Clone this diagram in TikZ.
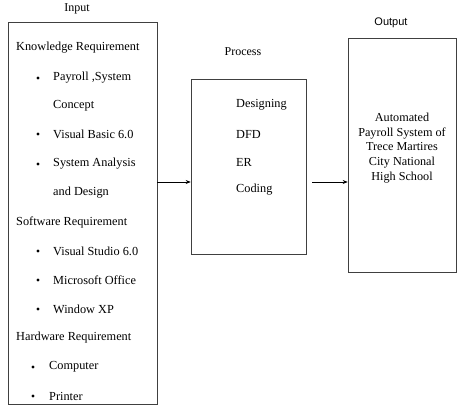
\documentclass[tikz,border=0pt]{standalone}
\usepackage{fontspec}
\setmainfont{Liberation Serif}
\newfontfamily\labelfont{Liberation Sans}
\usepackage{tikz}
\usetikzlibrary{arrows.meta}
\tikzstyle{arrow} = [-{Stealth[length=5pt,width=4pt]},line width=0.6pt]
\tikzstyle{box} = [draw=black!75,line width=0.6pt,inner sep=0pt]
\tikzstyle{txt} = [anchor=west,inner sep=0pt,font=\fontsize{12.3}{14}\selectfont]
\tikzstyle{dot} = [circle,fill,inner sep=1.2pt]

\begin{document}
\begin{tikzpicture}[x=1pt,y=-1pt]
          \useasboundingbox (0,0) rectangle (474,409);
          % boxes
          \node[box, minimum width=149pt, minimum height=382pt] (input) at (82.5, 213) {};
          \node[box, minimum width=115pt, minimum height=175pt] (process) at (248.5, 166.5) {};
          \node[box, minimum width=108pt, minimum height=234pt] (output) at (402, 155) {};

          % titles
          \node[font=\fontsize{12}{14}\selectfont] (tin) at (77, 9) {Input};
          \node[font=\fontsize{12}{14}\selectfont] (tproc) at (243, 52) {Process};
          \node[font=\labelfont\fontsize{11}{13}\selectfont] (tout) at (391, 23) {Output};

          % input list
          \node[txt] (k) at (16, 48) {Knowledge Requirement};
          \node[dot] (b1) at (38, 78) {};
          \node[txt] (k1) at (53, 78) {Payroll ,System};
          \node[txt] (k1b) at (53, 106) {Concept};
          \node[dot] (b2) at (38, 134) {};
          \node[txt] (k2) at (53, 134) {Visual Basic 6.0};
          \node[dot] (b3) at (38, 164) {};
          \node[txt] (k3) at (53, 164) {System Analysis};
          \node[txt] (k3b) at (53, 193) {and Design};
          \node[txt] (s) at (16, 222) {Software Requirement};
          \node[dot] (b4) at (38, 251) {};
          \node[txt] (s1) at (53, 251) {Visual Studio 6.0};
          \node[dot] (b5) at (38, 280) {};
          \node[txt] (s2) at (53, 280) {Microsoft Office};
          \node[dot] (b6) at (38, 309) {};
          \node[txt] (s3) at (53, 309) {Window XP};
          \node[txt] (h) at (16, 338) {Hardware Requirement};
          \node[dot] (b7) at (33, 367) {};
          \node[txt] (h1) at (49, 367) {Computer};
          \node[dot] (b8) at (33, 396) {};
          \node[txt] (h2) at (49, 396) {Printer};

          % process list
          \node[txt] (p1) at (236, 105) {Designing};
          \node[txt] (p2) at (236, 134) {DFD};
          \node[txt] (p3) at (236, 162) {ER};
          \node[txt] (p4) at (236, 190) {Coding};

          % output text
          \node[align=center, inner sep=0pt, font=\fontsize{12.2}{14.6}\selectfont] (res) at (402, 148)
            {Automated\\Payroll System of\\Trece Martires\\City National\\High School};

          \coordinate (mid) at (0, 182);
          \draw[arrow] (input.east |- mid) -- (process.west |- mid);
          \draw[arrow, shorten <=6pt] (process.east |- mid) -- (output.west |- mid);
        \end{tikzpicture}
\end{document}
